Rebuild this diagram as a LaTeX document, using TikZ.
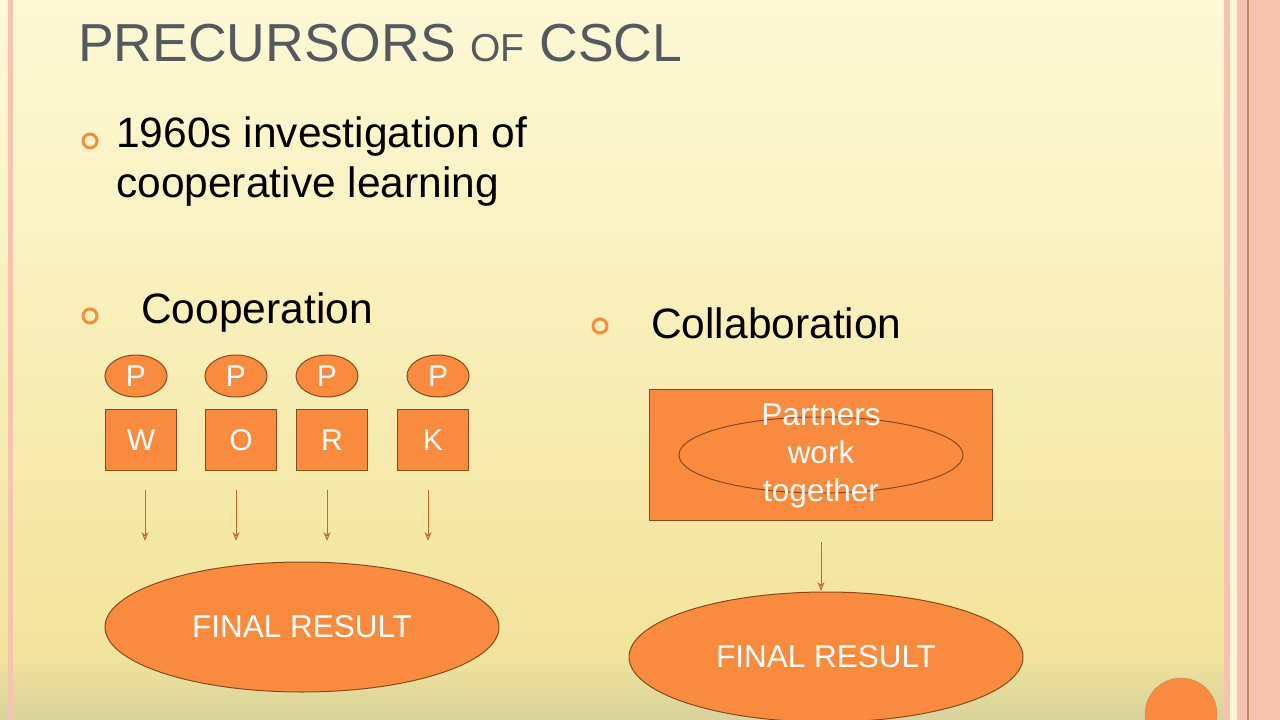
\documentclass[tikz,border=0pt]{standalone}
\usepackage{fontspec}
\setmainfont{Liberation Sans}
\usetikzlibrary{shapes.geometric,arrows.meta}
\definecolor{org}{HTML}{F98B3F}
\definecolor{orgd}{HTML}{8A4A20}
\definecolor{arrc}{HTML}{C06A30}
\definecolor{pinkb}{HTML}{F8C3AE}
\definecolor{titleg}{HTML}{555A5E}
\definecolor{bgtop}{HTML}{FDF9D6}
\definecolor{bgmid}{HTML}{F3E49C}
\definecolor{bgbot}{HTML}{D8D29C}
\definecolor{pale}{HTML}{FDF6D0}
\definecolor{brownl}{HTML}{C08860}
\begin{document}
\begin{tikzpicture}[x=1pt,y=-1pt,
  box/.style={draw=orgd,fill=org,line width=1pt,minimum width=71pt,minimum height=61pt,text=white,font=\fontsize{30}{32}\selectfont},
  pc/.style={ellipse,draw=orgd,fill=org,line width=1pt,minimum width=62pt,minimum height=42pt,inner sep=0pt,text=white,font=\fontsize{30}{32}\selectfont},
  big/.style={ellipse,draw=orgd,fill=org,line width=1pt,minimum width=394pt,minimum height=130pt,text=white,font=\fontsize{31.5}{34}\selectfont},
  arr/.style={draw=arrc,line width=1pt,-{Stealth[length=9pt,width=7pt,open]}},
  bul/.style={draw=org,line width=3pt,circle,minimum size=14pt,inner sep=0pt},
  txt/.style={anchor=west,font=\fontsize{42.5}{50}\selectfont,align=left}]
\useasboundingbox (0,0) rectangle (1280,720);
\clip (0,0) rectangle (1280,720);
\shade[top color=bgtop, bottom color=bgmid] (0,0) rectangle (1224,650);
\shade[top color=bgmid, bottom color=bgbot] (0,650) rectangle (1224,720);
\fill[pinkb] (8,0) rectangle (13,720);
\fill[pinkb] (1224,0) rectangle (1230,720);
\fill[pale] (1230,0) rectangle (1237,720);
\fill[pinkb] (1237,0) rectangle (1280,720);
\fill[brownl] (1247,0) rectangle (1249,720);
\node[anchor=base west,text=titleg,font=\fontsize{53.5}{60}\selectfont,inner sep=0pt] (title) at (78,61) {PRECURSORS {\fontsize{39}{44}\selectfont OF} CSCL};
\node[bul] (b1) at (90,141) {};
\node[txt,inner sep=0pt] (t1) at (116,162) {1960s investigation of\\cooperative learning};
\node[bul] (b2) at (90,316) {};
\node[txt,inner sep=0pt] (t2) at (141,313) {Cooperation};
\node[bul] (b3) at (600,326) {};
\node[txt,inner sep=0pt] (t3) at (651,323) {Collaboration};
\foreach \n/\x/\l in {1/141/W,2/241/O,3/332/R,4/433/K}{
  \node[box] (s\n) at (\x,440) {\l};}
\foreach \n/\x in {1/136,2/236,3/327,4/438}{
  \node[pc] (p\n) at (\x,376) {P};}
\foreach \n/\x in {1/145,2/236,3/327,4/428}{
  \coordinate (a\n) at (\x,490);
  \coordinate (e\n) at (\x,541);
  \draw[arr] (a\n) -- (e\n);}
\node[big] (f1) at (302,627) {FINAL RESULT};
\node[draw=orgd,fill=org,line width=1pt,minimum width=343pt,minimum height=131pt] (cb) at (821,455) {};
\node[ellipse,draw=orgd,line width=1pt,minimum width=284pt,minimum height=76pt] (ce) at (821,455) {};
\node[text=white,align=center,font=\fontsize{31.5}{38}\selectfont] (ct) at (821,456) {Partners\\work\\together};
\node[big] (f2) at (826,657) {FINAL RESULT};
\coordinate (c1) at (821,542);
\coordinate (c2) at (821,591);
\draw[arr] (c1) -- (c2);
\node[circle,fill=org,draw=orgd!60,minimum size=72pt] (dot) at (1181,714) {};
\end{tikzpicture}
\end{document}
